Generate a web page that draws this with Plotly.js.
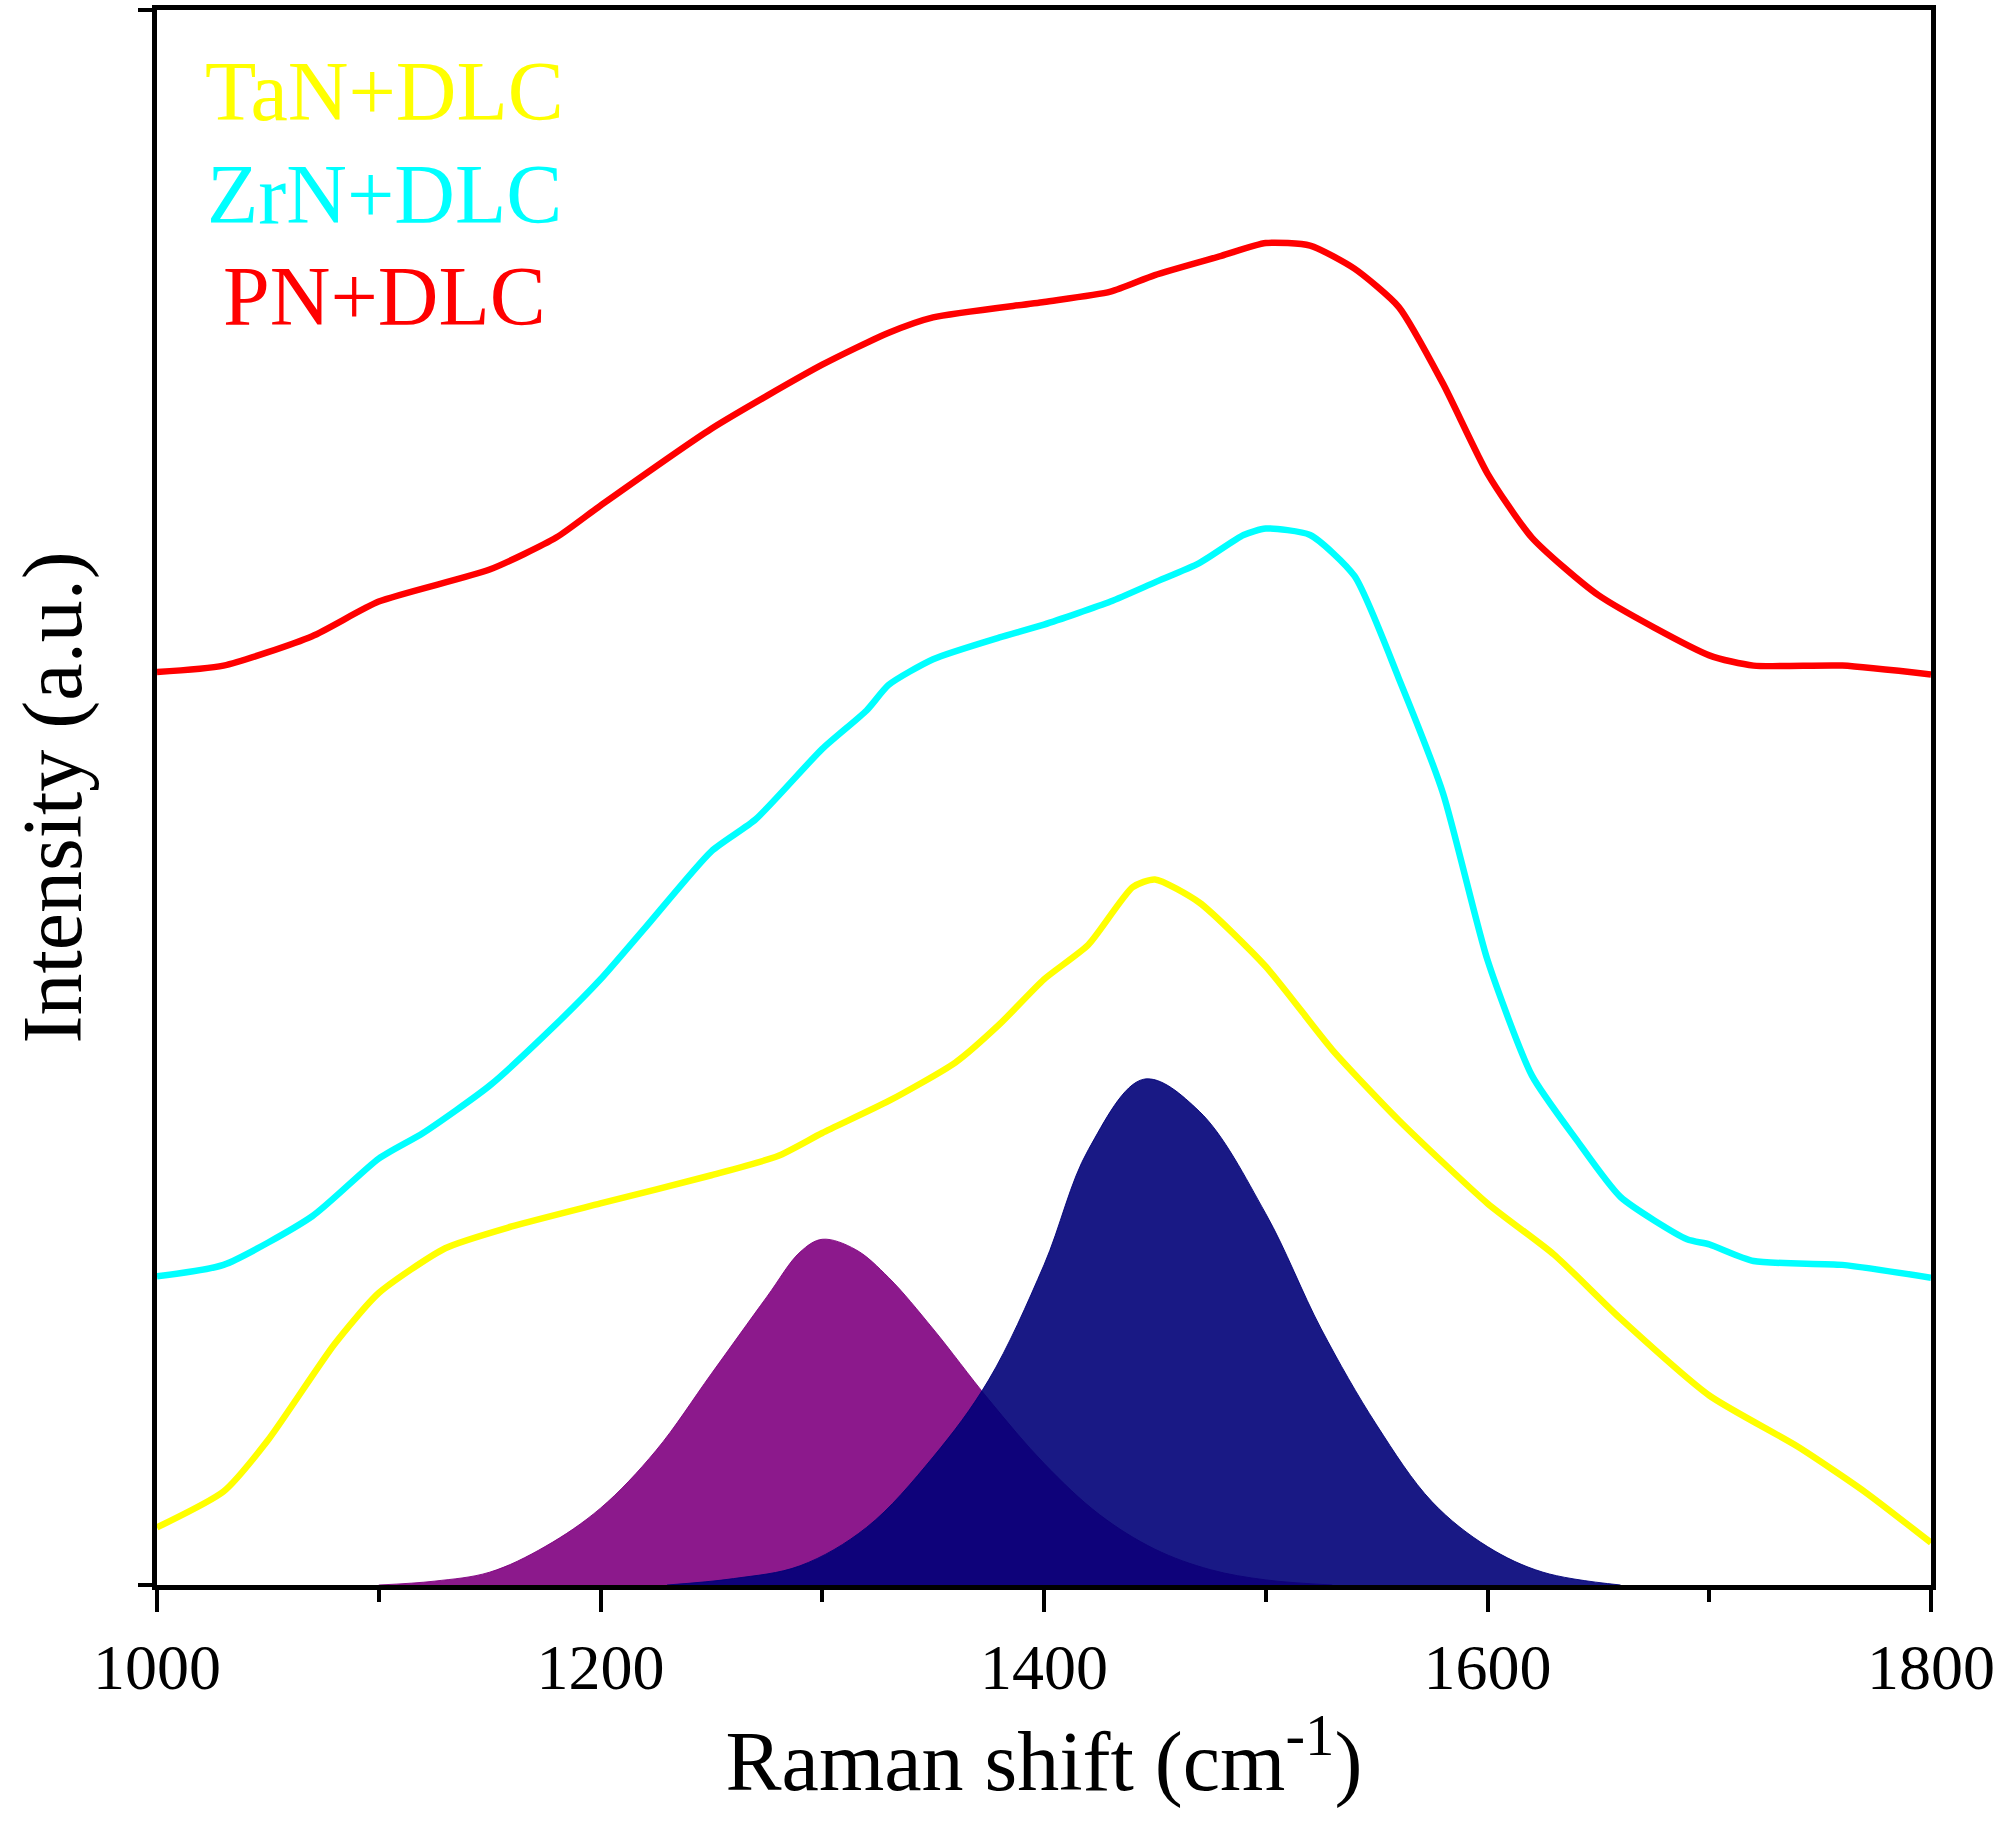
<!DOCTYPE html>
<html>
<head>
<meta charset="utf-8">
<script src="https://cdn.plot.ly/plotly-3.0.1.min.js"></script>
<style>body{margin:0;background:#fff}#chart{width:2008px;height:1832px}</style>
</head>
<body>
<div id="chart"></div>
<script>
// Raman spectra, offset vertically (arbitrary units)
var red_x = [1000,1030,1070,1100,1150,1180,1200,1250,1300,1330,1350,1400,1430,1450,1480,1500,1520,1540,1560,1580,1600,1620,1650,1700,1720,1760,1800];
var red_y = [713,718,741,768,793,818,843,903,953,978,990,1002,1010,1023,1038,1048,1046,1028,998,938,868,818,773,726,718,718,711];

var cyan_x = [1000,1030,1070,1100,1120,1150,1180,1200,1220,1250,1270,1300,1320,1330,1350,1380,1400,1430,1450,1470,1490,1500,1520,1540,1560,1580,1600,1620,1640,1660,1690,1700,1720,1760,1800];
var cyan_y = [241,250,288,333,353,390,438,473,513,573,598,653,683,703,723,740,750,768,783,798,820,825,820,788,708,618,488,398,348,303,270,266,253,250,240];

var yel_x = [1000,1030,1050,1080,1100,1130,1160,1200,1250,1280,1300,1330,1360,1380,1400,1420,1440,1450,1470,1500,1530,1560,1600,1630,1660,1700,1740,1770,1800];
var yel_y = [45,73,113,188,228,263,280,298,320,335,353,378,408,438,473,500,545,551,533,483,418,363,298,258,208,148,108,73,33];

// fitted D and G bands
var d_x = [1100,1125,1150,1175,1200,1225,1250,1275,1290,1300,1315,1330,1350,1375,1400,1425,1450,1475,1500,1530];
var d_y = [0,3,10,30,60,105,165,225,260,270,262,240,200,145,95,55,28,12,4,0];
var g_x = [1230,1260,1290,1320,1350,1375,1400,1420,1445,1470,1500,1525,1550,1575,1600,1625,1660];
var g_y = [0,5,15,45,100,160,250,340,395,370,290,200,125,65,30,10,0];

var labels = ['TaN+DLC','ZrN+DLC','PN+DLC'];
var label_colors = ['#ffff00','#00ffff','#ff0000'];

var line = function (x, y, c) {
  return {x: x, y: y, mode: 'lines', line: {color: c, width: 6.5, shape: 'spline', smoothing: 0.6}, hoverinfo: 'none'};
};

var data = [
  {x: d_x, y: d_y, mode: 'lines', fill: 'tozeroy', fillcolor: 'rgba(128,0,128,0.9)', line: {color: 'rgba(128,0,128,0.9)', width: 1, shape: 'spline'}},
  {x: g_x, y: g_y, mode: 'lines', fill: 'tozeroy', fillcolor: 'rgba(0,0,120,0.9)', line: {color: 'rgba(0,0,120,0.9)', width: 1, shape: 'spline'}},
  line(yel_x, yel_y, '#ffff00'),
  line(cyan_x, cyan_y, '#00ffff'),
  line(red_x, red_y, '#ff0000')
];

var annotations = labels.map(function (t, i) {
  return {text: t, x: 0.128, xref: 'paper', y: 1166 - i * 80, yref: 'y', showarrow: false,
          xanchor: 'center', yanchor: 'middle', font: {family: 'Liberation Serif', size: 84, color: label_colors[i]}};
});

var layout = {
  width: 2008, height: 1832,
  margin: {l: 157, r: 77, t: 10, b: 247},
  showlegend: false,
  paper_bgcolor: '#fff', plot_bgcolor: '#fff',
  font: {family: 'Liberation Serif', color: '#000'},
  xaxis: {
    range: [1000, 1800], tickvals: [1000, 1200, 1400, 1600, 1800],
    ticks: 'outside', ticklen: 22, tickwidth: 4, tickcolor: '#000',
    minor: {tickvals: [1100, 1300, 1500, 1700], ticks: 'outside', ticklen: 12, tickwidth: 4, tickcolor: '#000'},
    showline: true, linewidth: 5, linecolor: '#000', mirror: true,
    showgrid: false, zeroline: false,
    tickfont: {size: 64},
    title: {text: 'Raman shift (cm<sup>-1</sup>)', font: {size: 84}, standoff: 30}
  },
  yaxis: {
    range: [0, 1230], tickvals: [0, 1230], showticklabels: false,
    ticks: 'outside', ticklen: 14, tickwidth: 4, tickcolor: '#000',
    showline: true, linewidth: 5, linecolor: '#000', mirror: true,
    showgrid: false, zeroline: false,
    title: {text: 'Intensity (a.u.)', font: {size: 84}, standoff: 30}
  },
  annotations: annotations
};

Plotly.newPlot('chart', data, layout, {staticPlot: true});
</script>
</body>
</html>
